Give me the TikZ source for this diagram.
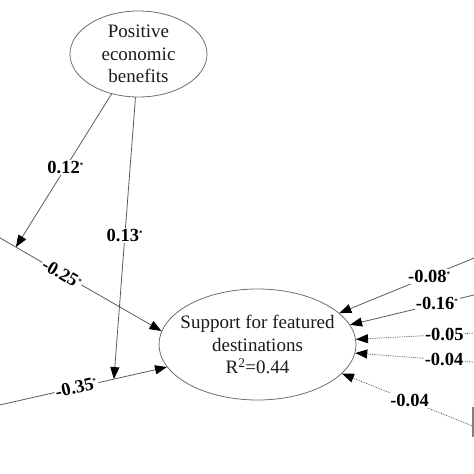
\documentclass[tikz,border=0pt]{standalone}
\usepackage{fontspec}
\setmainfont{Liberation Serif}
\usetikzlibrary{arrows.meta,shapes.geometric,calc}
\definecolor{linegray}{HTML}{5A5A5A}
\definecolor{ellgray}{HTML}{6E6E6E}
\definecolor{boxgray}{HTML}{808080}
\definecolor{txtdark}{HTML}{1A1A1A}
\newcommand{\mysig}{\textsuperscript{\fontsize{7}{7}\selectfont *}}
\begin{document}
\begin{tikzpicture}[x=1pt,y=-1pt,
  latent/.style={ellipse, draw=ellgray, line width=0.8pt, inner sep=0pt},
  arr/.style={draw=linegray, line width=0.8pt, -{Triangle[length=12pt,width=9pt,color=black]}},
  nsarr/.style={arr, densely dotted},
  coef/.style={font=\fontsize{18.5}{20}\selectfont\bfseries, fill=white, inner sep=1.2pt, text=black},
  txt/.style={align=center, font=\fontsize{19}{22.5}\selectfont, text=txtdark}]
\useasboundingbox (0,0) rectangle (474,474);
\clip (0,0) rectangle (474,474);
% nodes
\node[latent, minimum width=137pt, minimum height=86pt] (peb) at (138.5,54) {};
\node[txt] (pebt) at (peb) {Positive\\economic\\benefits};
\node[latent, minimum width=197pt, minimum height=111pt] (sfd) at (257.5,344.5) {};
\node[txt] (sfdt) at (sfd) {Support for featured\\destinations\\R\textsuperscript{2}=0.44};
\node[draw=boxgray, line width=1.5pt, minimum width=40pt, minimum height=28pt, anchor=north west, inner sep=0pt] (box) at (472,407) {};
% off-picture sources
\coordinate (l1) at (-10,232.2);
\coordinate (l2) at (-10,407.2);
\coordinate (r1) at (484,254);
\coordinate (r2) at (484,292.6);
\coordinate (r3) at (484,332.5);
\coordinate (r4) at (484,363);
% left paths
\draw[arr] (l1) -- coordinate[pos=0.151] (m1) node[coef, sloped, pos=0.42] {-0.25\mysig} (sfd.172);
\draw[arr] (l2) -- coordinate[pos=0.70] (m2) node[coef, sloped, pos=0.488] {-0.35\mysig} (sfd.194.7);
% moderation paths
\draw[arr] (peb.236.5) -- node[coef, pos=0.48] {0.12\mysig} (m1);
\draw[arr] (peb.266.7) -- node[coef, pos=0.49] {0.13\mysig} (m2);
% right paths
\draw[arr] (r1) -- node[coef, pos=0.377] {-0.08\mysig} (sfd.21.5);
\draw[arr] (r2) -- node[coef, pos=0.35] {-0.16\mysig} (sfd.12.2);
\draw[nsarr] (r3) -- node[coef, pos=0.31] {-0.05} (sfd.3.2);
\draw[nsarr] (r4) -- node[coef, pos=0.31] {-0.04} (sfd.-5.5);
\draw[nsarr] ([yshift=-4pt]box.west) -- node[coef, pos=0.48] {-0.04} (sfd.-19.8);
\end{tikzpicture}
\end{document}
